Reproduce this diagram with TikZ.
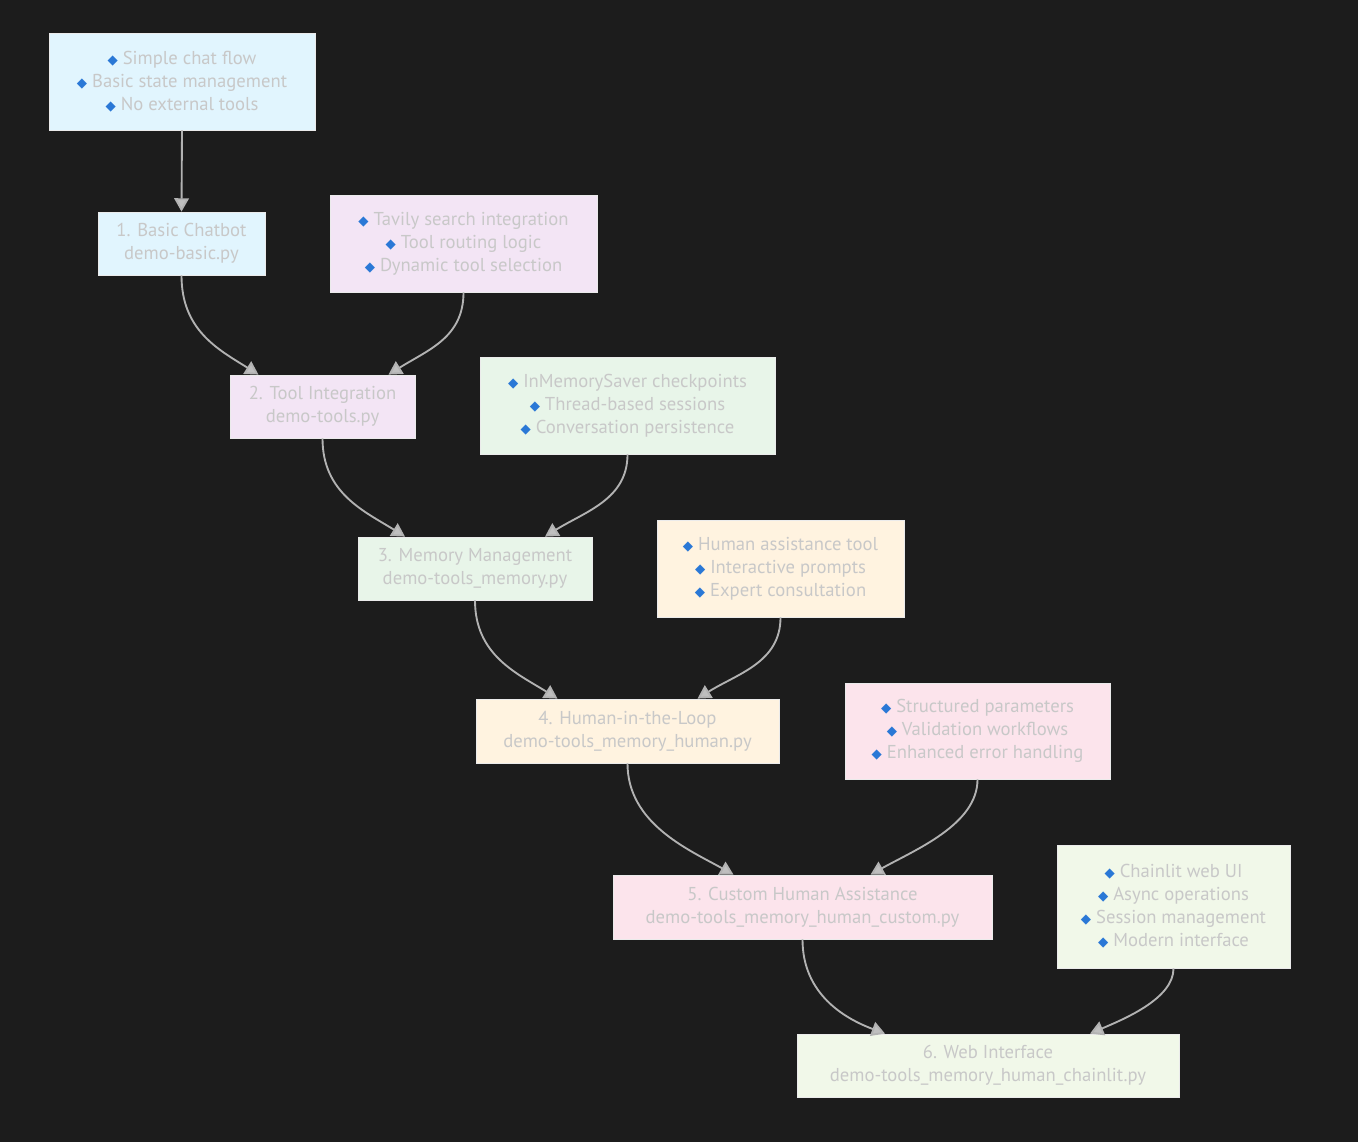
\documentclass[tikz,border=0pt]{standalone}
\usepackage{fontspec}
\setmainfont{PT Sans}
\newfontfamily\djfont{DejaVu Sans}
\usetikzlibrary{calc,arrows.meta}
\definecolor{bg}{HTML}{1C1C1C}
\definecolor{tx}{HTML}{C8C8C8}
\definecolor{dia}{HTML}{2A78D6}
\definecolor{cb}{HTML}{E1F5FE}
\definecolor{cp}{HTML}{F3E5F5}
\definecolor{cg}{HTML}{E8F5E9}
\definecolor{co}{HTML}{FFF3E0}
\definecolor{cr}{HTML}{FCE4EC}
\definecolor{cl}{HTML}{F1F8E9}
\newcommand{\dm}{{\djfont\color{dia}\fontsize{10}{10}\selectfont ◆}\ }
\tikzset{
 bx/.style={draw=white!92!black,line width=0.6pt,fill=#1,text=tx,align=center,inner sep=0pt,font=\fontsize{14}{17.3}\selectfont},
 ar/.style={draw=gray!60!white,line width=1.4pt,-{Triangle[length=10pt,width=11pt,fill=gray!50!white]}}
}
\begin{document}
\begin{tikzpicture}[x=0.75pt,y=-0.75pt]
\fill[bg] (0,0) rectangle (1358,1142);
\useasboundingbox (0,0) rectangle (1358,1142);
\newcommand{\bxat}[7]{\node[bx=#6,minimum width=#4*0.75pt,minimum height=#5*0.75pt] (#1) at (#2,#3) {#7};}
\bxat{A}{182}{81.5}{266}{97}{cb}{\dm Simple chat flow\\\dm Basic state management\\\dm No external tools}
\bxat{B1}{181.5}{243.5}{167}{63}{cb}{1. Basic Chatbot\\demo-basic.py}
\bxat{T}{463.5}{243.5}{267}{97}{cp}{\dm Tavily search integration\\\dm Tool routing logic\\\dm Dynamic tool selection}
\bxat{B2}{322.5}{406.5}{185}{63}{cp}{2. Tool Integration\\demo-tools.py}
\bxat{M}{627.5}{405.5}{295}{97}{cg}{\dm InMemorySaver checkpoints\\\dm Thread-based sessions\\\dm Conversation persistence}
\bxat{B3}{475}{568.5}{234}{63}{cg}{3. Memory Management\\demo-tools\_memory.py}
\bxat{H}{780.5}{568.5}{247}{97}{co}{\dm Human assistance tool\\\dm Interactive prompts\\\dm Expert consultation}
\bxat{B4}{627.5}{731}{303}{64}{co}{4. Human-in-the-Loop\\demo-tools\_memory\_human.py}
\bxat{C}{977.5}{731}{265}{96}{cr}{\dm Structured parameters\\\dm Validation workflows\\\dm Enhanced error handling}
\bxat{B5}{802.5}{907}{379}{64}{cr}{5. Custom Human Assistance\\demo-tools\_memory\_human\_custom.py}
\bxat{W}{1173.5}{906.5}{233}{123}{cl}{\dm Chainlit web UI\\\dm Async operations\\\dm Session management\\\dm Modern interface}
\bxat{B6}{988}{1065.5}{382}{63}{cl}{6. Web Interface\\demo-tools\_memory\_human\_chainlit.py}
\draw[ar] (A.south) -- (B1.north);
\draw[ar] (B1.south) .. controls +(0,55) and +(-40,-25) .. ($(B2.north)+(-64,0)$);
\draw[ar] (T.south) .. controls +(0,45) and +(40,-25) .. ($(B2.north)+(66,0)$);
\draw[ar] (B2.south) .. controls +(0,55) and +(-40,-25) .. ($(B3.north)+(-70,0)$);
\draw[ar] (M.south) .. controls +(0,45) and +(40,-25) .. ($(B3.north)+(70,0)$);
\draw[ar] (B3.south) .. controls +(0,55) and +(-40,-25) .. ($(B4.north)+(-70,0)$);
\draw[ar] (H.south) .. controls +(0,45) and +(40,-25) .. ($(B4.north)+(70,0)$);
\draw[ar] (B4.south) .. controls +(0,60) and +(-45,-25) .. ($(B5.north)+(-69,0)$);
\draw[ar] (C.south) .. controls +(0,45) and +(45,-25) .. ($(B5.north)+(68,0)$);
\draw[ar] (B5.south) .. controls +(0,55) and +(-40,-15) .. ($(B6.north)+(-103,0)$);
\draw[ar] (W.south) .. controls +(0,30) and +(35,-15) .. ($(B6.north)+(102,0)$);
\end{tikzpicture}
\end{document}
